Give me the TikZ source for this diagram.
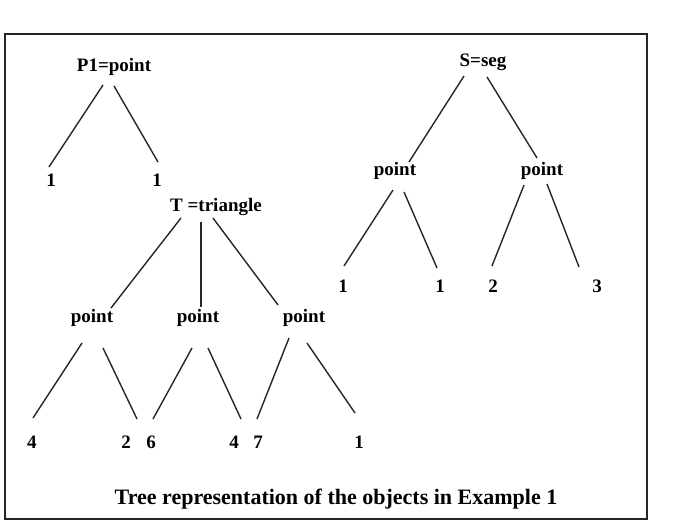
\documentclass[tikz,border=0pt]{standalone}
\usepackage{fontspec}
\setmainfont{Liberation Serif}
\usepackage{tikz}

\tikzset{
  lbl/.style={anchor=base, inner sep=0pt, font=\fontsize{9.5}{11}\selectfont\bfseries},
  capt/.style={anchor=base, inner sep=0pt, font=\fontsize{11}{13}\selectfont\bfseries},
  br/.style={line width=0.7pt, black!85}
}

\begin{document}
\begin{tikzpicture}[x=0.5pt, y=-0.5pt]
\useasboundingbox (0,0) rectangle (691,528);
\draw[line width=1.1pt, black!85] (5,34) rectangle (647,519);

% P1 tree
\node[lbl] (p1) at (114,72) {P1=point};
\node[lbl] (l1) at (51,187) {1};   \node[lbl] (l2) at (157,187) {1};

% T tree
\node[lbl] (tri) at (216,212) {T =triangle};
\node[lbl] (ta) at (92,323) {point}; \node[lbl] (tb) at (198,323) {point}; \node[lbl] (tc) at (304,323) {point};
\node[lbl] (la) at (32,449) {4};  \node[lbl] (lb) at (126,449) {2};
\node[lbl] (lc) at (151,449) {6}; \node[lbl] (ld) at (234,449) {4};
\node[lbl] (le) at (258,449) {7}; \node[lbl] (lf) at (359,449) {1};

% S tree
\node[lbl] (seg) at (483,67) {S=seg};
\node[lbl] (sa) at (395,176) {point}; \node[lbl] (sb) at (542,176) {point};
\node[lbl] (ra) at (343,293) {1}; \node[lbl] (rb) at (440,293) {1};
\node[lbl] (rc) at (493,293) {2}; \node[lbl] (rd) at (597,293) {3};

\node[capt] (cap) at (336,505) {Tree representation of the objects in Example 1};

% branches
\foreach \a/\ax/\ay/\b/\bx/\by in {
  p1/-11/13/l1/-2/-20, p1/0/14/l2/1/-25,
  tri/-35/6/ta/19/-15, tri/-15/10/tb/3/-16, tri/-3/6/tc/-26/-18,
  ta/-10/20/la/1/-31, ta/11/25/lb/11/-30,
  tb/-6/25/lc/2/-30, tb/10/25/ld/7/-30,
  tc/-15/15/le/-1/-30, tc/3/20/lf/-4/-36,
  seg/-19/9/sa/14/-14, seg/4/10/sb/-5/-18,
  sa/-2/14/ra/1/-27, sa/9/16/rb/-3/-25,
  sb/-18/9/rc/-1/-27, sb/5/8/rd/-18/-26}
  \draw[br] ([shift={(\ax,\ay)}]\a.base) -- ([shift={(\bx,\by)}]\b.base);
\end{tikzpicture}
\end{document}
